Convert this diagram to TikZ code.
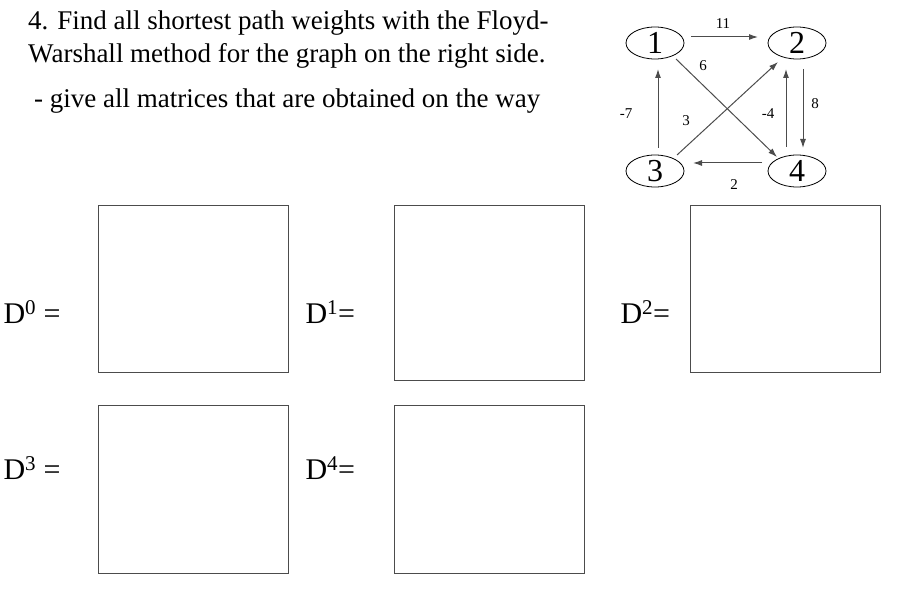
\documentclass[tikz,border=0pt]{standalone}
\usepackage{fontspec}
\setmainfont{Liberation Serif}
\usetikzlibrary{shapes.geometric,arrows.meta}
\begin{document}
\begin{tikzpicture}[x=1pt,y=-1pt,
  vtx/.style={ellipse,draw,line width=0.8pt,minimum width=58pt,minimum height=32pt,inner sep=0pt,font=\fontsize{32}{32}\selectfont},
  edge/.style={draw=black!70,line width=1pt,-{Latex[length=9pt,width=6pt]}},
  wlab/.style={font=\fontsize{15}{16}\selectfont},
  mbox/.style={draw=black!70,line width=1pt},
  dlab/.style={font=\fontsize{30}{32}\selectfont,anchor=west}]
\useasboundingbox (0,0) rectangle (924,609);
\node[anchor=north west,align=left,font=\fontsize{27}{33}\selectfont,inner sep=0pt] (t1) at (28,11)
 {4. Find all shortest path weights with the Floyd-\\Warshall method for the graph on the right side.};
\node[anchor=west,font=\fontsize{27}{30}\selectfont,inner sep=0pt] (t2) at (34,101) {- give all matrices that are obtained on the way};
\node[vtx] (v1) at (655,43) {1};
\node[vtx] (v2) at (797,43) {2};
\node[vtx] (v3) at (655,171) {3};
\node[vtx] (v4) at (797,171) {4};
\coordinate (a1) at (691,37); \coordinate (a2) at (758,37);
\draw[edge] (a1) -- (a2);
\node[wlab] (l11) at (723,24) {11};
\coordinate (b1) at (676,59); \coordinate (b2) at (777,157);
\draw[edge] (b1) -- (b2);
\node[wlab] (l6) at (703,66) {6};
\coordinate (c1) at (677,155); \coordinate (c2) at (778,62);
\draw[edge] (c1) -- (c2);
\node[wlab] (l3) at (686,121) {3};
\coordinate (d1) at (658,148); \coordinate (d2) at (658,69);
\draw[edge] (d1) -- (d2);
\node[wlab] (l7) at (626,114) {-7};
\coordinate (e1) at (786,147); \coordinate (e2) at (786,69);
\draw[edge] (e1) -- (e2);
\node[wlab] (l4) at (768,114) {-4};
\coordinate (f1) at (803,69); \coordinate (f2) at (803,148);
\draw[edge] (f1) -- (f2);
\node[wlab] (l8) at (815,104) {8};
\coordinate (g1) at (762,163); \coordinate (g2) at (693,163);
\draw[edge] (g1) -- (g2);
\node[wlab] (l2) at (734,185) {2};
\node[mbox,minimum width=190pt,minimum height=167pt,anchor=north west] (m0) at (98,205) {};
\node[mbox,minimum width=190pt,minimum height=175pt,anchor=north west] (m1) at (394,205) {};
\node[mbox,minimum width=190pt,minimum height=167pt,anchor=north west] (m2) at (690,205) {};
\node[mbox,minimum width=190pt,minimum height=168pt,anchor=north west] (m3) at (98,405) {};
\node[mbox,minimum width=190pt,minimum height=168pt,anchor=north west] (m4) at (394,405) {};
\node[dlab] (d0) at (0,312) {D\textsuperscript{0} =};
\node[dlab] (dd1) at (302,312) {D\textsuperscript{1}=};
\node[dlab] (dd2) at (617,312) {D\textsuperscript{2}=};
\node[dlab] (dd3) at (0,468) {D\textsuperscript{3} =};
\node[dlab] (dd4) at (302,468) {D\textsuperscript{4}=};
\end{tikzpicture}
\end{document}
